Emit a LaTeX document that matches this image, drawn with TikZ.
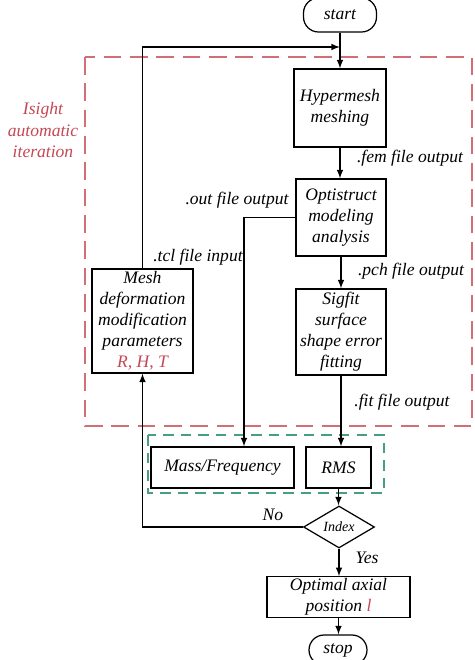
\documentclass[tikz,border=0pt]{standalone}
\usepackage{fontspec}
\setmainfont{Liberation Serif}
\usetikzlibrary{shapes.geometric}
\definecolor{isightred}{RGB}{196,72,84}
\definecolor{loopred}{RGB}{208,112,118}
\definecolor{resgreen}{RGB}{72,158,128}
\begin{document}
\begin{tikzpicture}[x=0.02cm, y=-0.02cm, >=latex, line width=0.7pt,
    every node/.style={font=\itshape},
    proc/.style={draw, rectangle, align=center, inner sep=1pt},
    term/.style={draw, rectangle, rounded corners=0.3cm, align=center, inner sep=1pt},
    flowlbl/.style={inner sep=1pt}]
    \useasboundingbox (0,0) rectangle (474,660);
    % iteration frame and result frame
    \draw[loopred, line width=0.9pt, dash pattern=on 10pt off 5pt] (85,57) rectangle (472,426);
    \draw[resgreen, line width=0.8pt, dash pattern=on 6pt off 4pt] (148,435) rectangle (384,493);
    \node[isightred, align=center] (isight) at (43,130) {Isight\\automatic\\iteration};
    % main chain
    \node[term, minimum width=1.46cm, minimum height=0.68cm] (start) at (340,15) {start};
    \node[proc, minimum width=1.84cm, minimum height=1.56cm] (hyper) at (340,108) {Hypermesh\\meshing};
    \node[proc, minimum width=1.8cm, minimum height=1.54cm] (opt) at (341,217.5) {Optistruct\\modeling\\analysis};
    \node[proc, minimum width=1.8cm, minimum height=1.72cm] (sig) at (341,332) {Sigfit\\surface\\shape error\\fitting};
    \node[proc, minimum width=2.02cm, minimum height=2.08cm] (mesh) at (142.5,321) {Mesh\\deformation\\modification\\parameters\\{\color{isightred}R, H, T}};
    \node[proc, minimum width=2.86cm, minimum height=0.82cm] (mass) at (222.5,467.5) {Mass/Frequency};
    \node[proc, minimum width=1.3cm, minimum height=0.82cm] (rms) at (338.5,467.5) {RMS};
    \node[draw, diamond, minimum width=1.42cm, minimum height=0.84cm, inner sep=0pt, font=\itshape\footnotesize] (index) at (339,527) {Index};
    \node[proc, minimum width=2.86cm, minimum height=0.8cm] (best) at (338.5,597) {Optimal axial\\position {\color{isightred}l}};
    \node[term, minimum width=1.16cm, minimum height=0.6cm] (stop) at (338,650) {stop};
    % file labels
    \node[flowlbl] (femlbl) at (410,158) {.fem file output};
    \node[flowlbl] (outlbl) at (237,200) {.out file output};
    \node[flowlbl] (tcllbl) at (198,257) {.tcl file input};
    \node[flowlbl] (pchlbl) at (411,271) {.pch file output};
    \node[flowlbl] (fitlbl) at (402,402) {.fit file output};
    \node[flowlbl] (nolbl) at (273,515) {No};
    \node[flowlbl] (yeslbl) at (367,558) {Yes};
    % connectors
    \coordinate (outx) at (244,0);
    \coordinate (loopin) at (340,47);
    \draw[->] (start) -- (hyper);
    \draw[->] (hyper.south) -- (hyper.south |- opt.north);
    \draw[->] (opt) -- (sig);
    \draw[->] (opt.west) -| (outx |- mass.north);
    \draw[->] (sig.south) -- (sig.south |- rms.north);
    \draw[->] (rms.south) -- (rms.south |- index.north);
    \draw[->] (index.west) -| (mesh.south);
    \draw[->] (mesh.north) |- (loopin);
    \draw[->] (index.south) -- (index.south |- best.north);
    \draw[->] (best.south) -- (best.south |- stop.north);
\end{tikzpicture}
\end{document}
